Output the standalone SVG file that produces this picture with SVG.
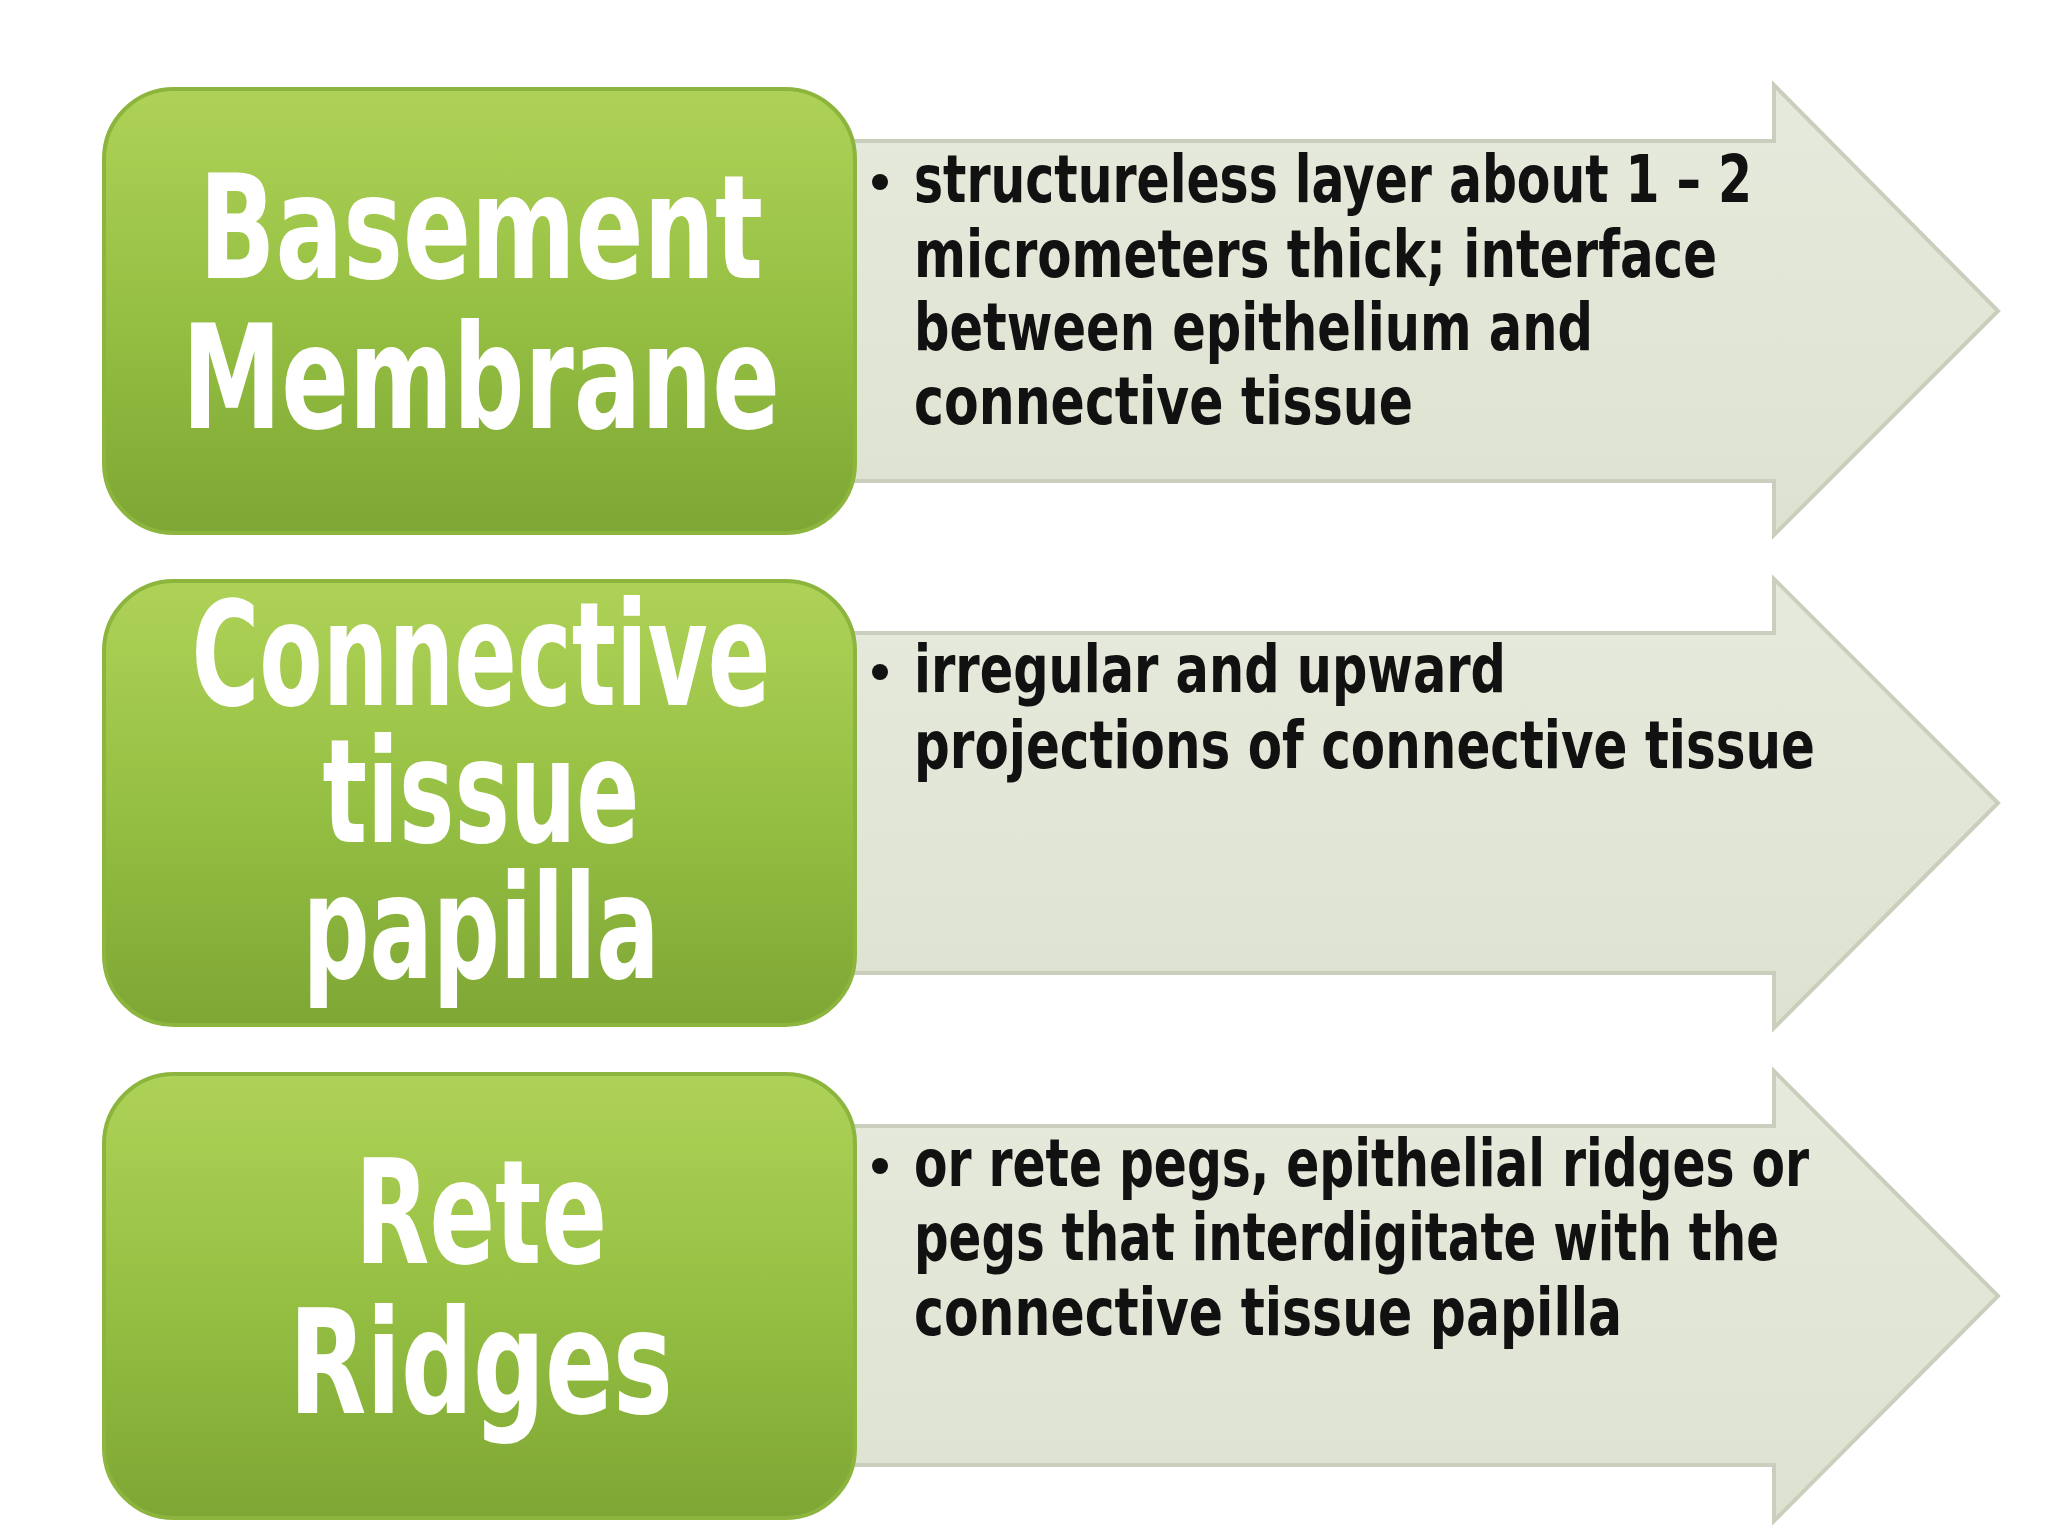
<svg xmlns="http://www.w3.org/2000/svg" width="2048" height="1536" viewBox="0 0 2048 1536">
<defs>
<linearGradient id="g" x1="0" y1="0" x2="0" y2="1"><stop offset="0" stop-color="#aed257"/><stop offset="0.5" stop-color="#96c043"/><stop offset="1" stop-color="#7ea634"/></linearGradient>
<linearGradient id="a" x1="0" y1="0" x2="0" y2="1"><stop offset="0" stop-color="#e6eadc"/><stop offset="1" stop-color="#dde2d0"/></linearGradient>
<style>
.box{fill:url(#g);stroke:#8cb53e;stroke-width:4}
.arr{fill:url(#a);stroke:#c9cfbc;stroke-width:4}
.h{font-family:"Liberation Sans Narrow","DejaVu Sans Condensed","Liberation Sans",sans-serif;font-weight:bold;font-size:145px;fill:#fff;text-anchor:middle}
.b{font-family:"Liberation Sans Narrow","DejaVu Sans Condensed","Liberation Sans",sans-serif;font-weight:bold;font-size:66px;fill:#111}
.dot{fill:#111}
</style>
</defs>
<rect width="2048" height="1536" fill="#fff"/>
<g id="arrows">
<path class="arr" d="M840 141H1774V85L1998 311L1774 535V481H840Z"/>
<path class="arr" d="M840 633H1774V579L1998 803L1774 1028V973H840Z"/>
<path class="arr" d="M840 1126H1774V1071L1998 1296L1774 1521V1465H840Z"/>
</g>
<g id="node1">
<rect class="box" x="104" y="89" width="751" height="444" rx="70"/>
<text class="h" x="481" y="278" textLength="564" lengthAdjust="spacingAndGlyphs">Basement</text>
<text class="h" x="481" y="428" textLength="598" lengthAdjust="spacingAndGlyphs">Membrane</text>
</g>
<g id="node2">
<rect class="box" x="104" y="581" width="751" height="444" rx="70"/>
<text class="h" x="481" y="705" textLength="579" lengthAdjust="spacingAndGlyphs">Connective</text>
<text class="h" x="481" y="842" textLength="317" lengthAdjust="spacingAndGlyphs">tissue</text>
<text class="h" x="481" y="978" textLength="357" lengthAdjust="spacingAndGlyphs">papilla</text>
</g>
<g id="node3">
<rect class="box" x="104" y="1074" width="751" height="444" rx="70"/>
<text class="h" x="481" y="1263" textLength="252" lengthAdjust="spacingAndGlyphs">Rete</text>
<text class="h" x="481" y="1413" textLength="384" lengthAdjust="spacingAndGlyphs">Ridges</text>
</g>
<g id="text1">
<circle class="dot" cx="880" cy="182" r="8"/>
<text class="b" x="914" y="202" textLength="838" lengthAdjust="spacingAndGlyphs">structureless layer about 1 – 2</text>
<text class="b" x="914" y="277" textLength="803" lengthAdjust="spacingAndGlyphs">micrometers thick; interface</text>
<text class="b" x="914" y="350" textLength="679" lengthAdjust="spacingAndGlyphs">between epithelium and</text>
<text class="b" x="914" y="424" textLength="499" lengthAdjust="spacingAndGlyphs">connective tissue</text>
</g>
<g id="text2">
<circle class="dot" cx="880" cy="672" r="8"/>
<text class="b" x="914" y="692" textLength="592" lengthAdjust="spacingAndGlyphs">irregular and upward</text>
<text class="b" x="914" y="768" textLength="901" lengthAdjust="spacingAndGlyphs">projections of connective tissue</text>
</g>
<g id="text3">
<circle class="dot" cx="880" cy="1166" r="8"/>
<text class="b" x="914" y="1186" textLength="895" lengthAdjust="spacingAndGlyphs">or rete pegs, epithelial ridges or</text>
<text class="b" x="914" y="1260" textLength="865" lengthAdjust="spacingAndGlyphs">pegs that interdigitate with the</text>
<text class="b" x="914" y="1335" textLength="708" lengthAdjust="spacingAndGlyphs">connective tissue papilla</text>
</g>
</svg>
